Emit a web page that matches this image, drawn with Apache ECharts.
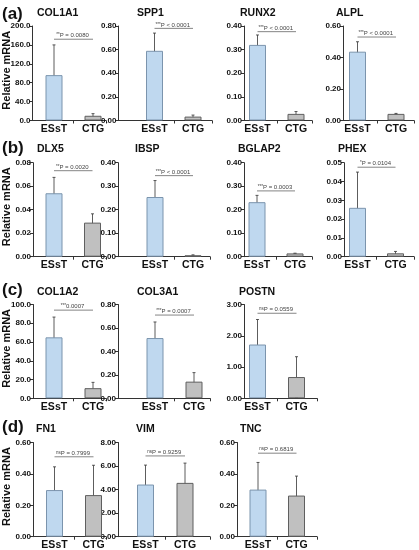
<!DOCTYPE html>
<html><head><meta charset="utf-8">
<script src="https://cdn.jsdelivr.net/npm/echarts@6/dist/echarts.min.js"></script>
<style>html,body{margin:0;padding:0;background:#fff}#c{width:419px;height:550px}</style>
</head><body><div id="c"></div>
<script>
// ---------- data ----------
const genes = ['COL1A1','SPP1','RUNX2','ALPL','DLX5','IBSP','BGLAP2','PHEX','COL1A2','COL3A1','POSTN','FN1','VIM','TNC'];
const groups = ['ESsT','CTG'];
const esstMean = [96, 0.59, 0.32, 0.437, 0.054, 0.254, 0.232, 0.026, 65, 0.514, 1.72, 0.297, 4.43, 0.30];
const esstErr  = [64, 0.15, 0.042, 0.063, 0.0135, 0.07, 0.029, 0.019, 21.6, 0.137, 0.8, 0.148, 1.65, 0.173];
const ctgMean  = [10, 0.033, 0.028, 0.042, 0.029, 0.006, 0.014, 0.0018, 10.8, 0.142, 0.68, 0.265, 4.57, 0.262];
const ctgErr   = [4.5, 0.013, 0.01, 0.003, 0.0075, 0.002, 0.001, 0.001, 6.2, 0.077, 0.65, 0.19, 1.68, 0.124];
const sigLevel = [172, 0.78, 0.376, 0.53, 0.0732, 0.345, 0.28, 0.0476, 94, 0.71, 2.72, 0.509, 6.86, 0.532];
const sigStars = ['**','***','***','***','**','***','***','*','***','***','ns','ns','ns','ns'];
const sigText  = ['P = 0.0080','P < 0.0001','P < 0.0001','P < 0.0001','P = 0.0020','P < 0.0001','P = 0.0003','P = 0.0104','0.0007','P = 0.0007','P = 0.0559','P = 0.7999','P = 0.9259','P = 0.6819'];
const yMax  = [200, 0.8, 0.4, 0.6, 0.08, 0.4, 0.4, 0.05, 100, 0.8, 3, 0.6, 8, 0.6];
const yStep = [40, 0.2, 0.1, 0.2, 0.02, 0.1, 0.1, 0.01, 20, 0.2, 1, 0.2, 2, 0.2];
const yDec  = [1, 2, 2, 2, 2, 2, 2, 2, 1, 2, 2, 2, 2, 2];
const rowLabels = ['(a)','(b)','(c)','(d)'];
const yAxisTitle = 'Relative mRNA';

// ---------- layout (pixels) ----------
const panelRow = [0,0,0,0,1,1,1,1,2,2,2,3,3,3];
const rowBox = [[26,120.5],[162.7,256.7],[304.5,398.3],[442.5,536.7]];
const rowTitleY = [14,150,293,430];
const rowLabelY = [14,148.5,290,427];
// [axisX, center1, center2, axisEnd, titleX]
const px = [
  [32.5,54,93,106,37],[118.5,154.5,193,212,137],[244,257.5,296,312,240],[343,357.5,396,414,336],
  [33,54,92.5,106,37],[118,155,193,210,135],[244,257,295,312,238],[344,357.5,395.5,414,338],
  [33,54,93,106,37],[118,155,194,210,137],[244,257.5,296.5,317,239],
  [33,54.5,93.5,106,36],[118,145.5,185,210,136],[237,258,296.5,317,240]
];

const FONT = '"Liberation Sans", Arial, sans-serif';
const grid = [], xAxis = [], yAxis = [], series = [], title = [], graphic = [];

rowLabels.forEach((t, r) => {
  graphic.push({type: 'text', x: 2, y: rowLabelY[r], silent: true,
    style: {text: t, align: 'left', verticalAlign: 'middle', textAlign: 'left', textVerticalAlign: 'middle',
      font: 'bold 17px "Liberation Sans", Arial, sans-serif', fill: '#111'}});
  const [top, bottom] = rowBox[r];
  graphic.push({type: 'text', x: 6.5, y: (top + bottom) / 2 - 3, rotation: Math.PI / 2, silent: true,
    style: {text: yAxisTitle, align: 'center', verticalAlign: 'middle',
      textAlign: 'center', textVerticalAlign: 'middle',
      font: 'bold 11px "Liberation Sans", Arial, sans-serif', fill: '#111'}});
});

genes.forEach((g, i) => {
  const [ax, c1, c2, end, tx] = px[i];
  const [top, bottom] = rowBox[panelRow[i]];
  const d = c2 - c1;
  const xmin = -(c1 - ax) / d;
  const xmax = 1 + (end - c2) / d;
  grid.push({left: ax, top: top, width: end - ax, height: bottom - top, outerBoundsMode: 'none'});
  title.push({text: g, left: tx, top: rowTitleY[panelRow[i]] - 6.5, padding: 0,
    textStyle: {fontSize: 10.5, fontWeight: 'bold', color: '#111', fontFamily: FONT}});
  xAxis.push({
    gridIndex: i, type: 'value', min: xmin, max: xmax,
    axisLine: {show: true, onZero: false, lineStyle: {color: '#333', width: 1}},
    axisTick: {show: true, customValues: [0.5, xmax], length: 3, lineStyle: {color: '#333'}},
    axisLabel: {customValues: [0, 1], formatter: v => groups[Math.round(v)],
      fontSize: 10.5, fontWeight: 'bold', color: '#111', margin: 3, fontFamily: FONT},
    splitLine: {show: false}
  });
  yAxis.push({
    gridIndex: i, type: 'value', min: 0, max: yMax[i], interval: yStep[i],
    axisLine: {show: true, onZero: false, lineStyle: {color: '#333', width: 1}},
    axisTick: {show: true, length: 3, lineStyle: {color: '#333'}},
    axisLabel: {show: true, hideOverlap: false, showMinLabel: true, showMaxLabel: true,
      formatter: v => v.toFixed(yDec[i]),
      fontSize: 8, fontWeight: 'bold', color: '#111', margin: 2, fontFamily: FONT},
    splitLine: {show: false}
  });
  series.push({
    type: 'bar', xAxisIndex: i, yAxisIndex: i, barWidth: 17, silent: true,
    data: [
      {value: [0, esstMean[i]], itemStyle: {color: '#bfd8ef', borderColor: '#7b94ad', borderWidth: 1}},
      {value: [1, ctgMean[i]], itemStyle: {color: '#c0c0c0', borderColor: '#5f5f5f', borderWidth: 1}}
    ]
  });
  series.push({
    type: 'custom', xAxisIndex: i, yAxisIndex: i, silent: true, clip: false,
    data: [[0, esstMean[i], esstErr[i]], [1, ctgMean[i], ctgErr[i]]],
    encode: {x: 0, y: 1},
    renderItem: (params, api) => {
      const x = api.value(0), m = api.value(1), e = api.value(2);
      const pt = api.coord([x, m + e]), pb = api.coord([x, Math.max(0, m - e)]);
      const st = {stroke: '#333', lineWidth: 0.8};
      return {type: 'group', children: [
        {type: 'line', shape: {x1: pt[0], y1: pt[1], x2: pb[0], y2: pb[1]}, style: st},
        {type: 'line', shape: {x1: pt[0] - 1.5, y1: pt[1], x2: pt[0] + 1.5, y2: pt[1]}, style: st},
        {type: 'line', shape: {x1: pb[0] - 1.5, y1: pb[1], x2: pb[0] + 1.5, y2: pb[1]}, style: st}
      ]};
    }
  });
  series.push({
    type: 'custom', xAxisIndex: i, yAxisIndex: i, silent: true, clip: false,
    data: [[0.5, sigLevel[i]]],
    encode: {x: 0, y: 1},
    renderItem: (params, api) => {
      const lv = api.value(1);
      const p0 = api.coord([0, lv]), p1 = api.coord([1, lv]);
      return {type: 'group', children: [
        {type: 'line', shape: {x1: p0[0], y1: p0[1], x2: p1[0], y2: p1[1]}, style: {stroke: '#666', lineWidth: 0.8}},
        {type: 'text', x: (p0[0] + p1[0]) / 2 - 1, y: p0[1] - 0.5,
          style: {text: '{s|' + sigStars[i] + '}' + sigText[i], align: 'center', verticalAlign: 'bottom',
            fontSize: 6, fill: '#444', fontFamily: FONT,
            rich: {s: {fontSize: 4.5, fill: '#444', fontFamily: FONT, verticalAlign: 'top'}}}}
      ]};
    }
  });
});

const chart = echarts.init(document.getElementById('c'), null, {renderer: 'canvas'});
chart.setOption({animation: false, backgroundColor: '#fff', textStyle: {fontFamily: FONT},
  title, grid, xAxis, yAxis, series, graphic});
</script></body></html>
